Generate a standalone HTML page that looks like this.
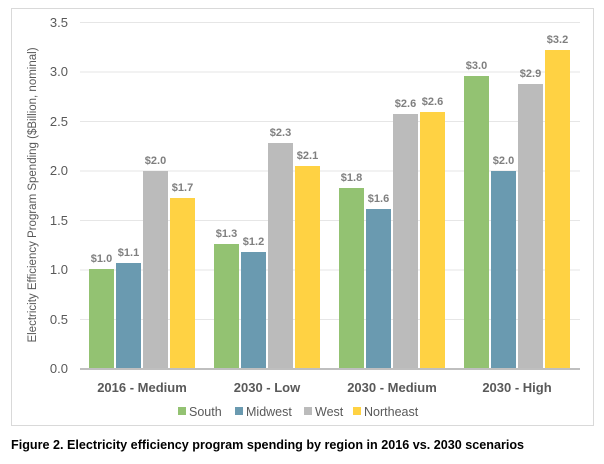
<!DOCTYPE html>
<html><head><meta charset="utf-8"><style>
html,body{margin:0;padding:0;background:#fff;}
svg{display:block;font-family:"Liberation Sans",Calibri,sans-serif;}
</style></head><body>
<svg width="604" height="464" viewBox="0 0 604 464" xmlns="http://www.w3.org/2000/svg">
<rect x="11.5" y="8.5" width="582" height="417" fill="#fff" stroke="#d9d9d9"/>
<g stroke="#e6e6e6" stroke-width="1">
<line x1="80" x2="580" y1="22.5" y2="22.5"/>
<line x1="80" x2="580" y1="72" y2="72"/>
<line x1="80" x2="580" y1="121.5" y2="121.5"/>
<line x1="80" x2="580" y1="171" y2="171"/>
<line x1="80" x2="580" y1="220.5" y2="220.5"/>
<line x1="80" x2="580" y1="270" y2="270"/>
<line x1="80" x2="580" y1="319.5" y2="319.5"/>
</g>
<g font-size="13" fill="#595959" text-anchor="end">
<text x="68" y="27">3.5</text><text x="68" y="76">3.0</text><text x="68" y="126">2.5</text>
<text x="68" y="175">2.0</text><text x="68" y="225">1.5</text><text x="68" y="274">1.0</text>
<text x="68" y="324">0.5</text><text x="68" y="373">0.0</text>
</g>
<text transform="translate(36,195) rotate(-90)" font-size="11.5" fill="#595959" text-anchor="middle">Electricity Efficiency Program Spending  ($Billion, nominal)</text>
<g>
<rect x="89" y="269" width="25" height="100" fill="#93c272"/>
<rect x="116" y="263" width="25" height="106" fill="#6a9ab0"/>
<rect x="143" y="171" width="25" height="198" fill="#bbbbbb"/>
<rect x="170" y="198" width="25" height="171" fill="#ffd243"/>

<rect x="214" y="244" width="25" height="125" fill="#93c272"/>
<rect x="241" y="252" width="25" height="117" fill="#6a9ab0"/>
<rect x="268" y="143" width="25" height="226" fill="#bbbbbb"/>
<rect x="295" y="166" width="25" height="203" fill="#ffd243"/>

<rect x="339" y="188" width="25" height="181" fill="#93c272"/>
<rect x="366" y="209" width="25" height="160" fill="#6a9ab0"/>
<rect x="393" y="114" width="25" height="255" fill="#bbbbbb"/>
<rect x="420" y="112" width="25" height="257" fill="#ffd243"/>

<rect x="464" y="76" width="25" height="293" fill="#93c272"/>
<rect x="491" y="171" width="25" height="198" fill="#6a9ab0"/>
<rect x="518" y="84" width="25" height="285" fill="#bbbbbb"/>
<rect x="545" y="50" width="25" height="319" fill="#ffd243"/>
</g>
<line x1="80" x2="580" y1="369" y2="369" stroke="#bfbfbf" stroke-width="2"/>
<g font-size="11" font-weight="bold" fill="#7f7f7f" text-anchor="middle">
<text x="101.5" y="262">$1.0</text><text x="128.5" y="256">$1.1</text><text x="155.5" y="164">$2.0</text><text x="182.5" y="191">$1.7</text>
<text x="226.5" y="237">$1.3</text><text x="253.5" y="245">$1.2</text><text x="280.5" y="136">$2.3</text><text x="307.5" y="159">$2.1</text>
<text x="351.5" y="181">$1.8</text><text x="378.5" y="202">$1.6</text><text x="405.5" y="107">$2.6</text><text x="432.5" y="105">$2.6</text>
<text x="476.5" y="69">$3.0</text><text x="503.5" y="164">$2.0</text><text x="530.5" y="77">$2.9</text><text x="557.5" y="43">$3.2</text>
</g>
<g font-size="13" font-weight="bold" fill="#595959" text-anchor="middle">
<text x="142" y="392">2016 - Medium</text><text x="267" y="392">2030 - Low</text>
<text x="392" y="392">2030 - Medium</text><text x="517" y="392">2030 - High</text>
</g>
<g font-size="12.5" fill="#595959">
<rect x="178" y="407" width="8" height="8" fill="#93c272"/><text x="189" y="416">South</text>
<rect x="235" y="407" width="8" height="8" fill="#6a9ab0"/><text x="246" y="416">Midwest</text>
<rect x="304" y="407" width="8" height="8" fill="#bbbbbb"/><text x="315" y="416">West</text>
<rect x="353" y="407" width="8" height="8" fill="#ffd243"/><text x="364" y="416">Northeast</text>
</g>
<text x="11" y="449" font-size="12.6" font-weight="bold" fill="#000">Figure 2. Electricity efficiency program spending by region in 2016 vs. 2030 scenarios</text>
</svg>
</body></html>
